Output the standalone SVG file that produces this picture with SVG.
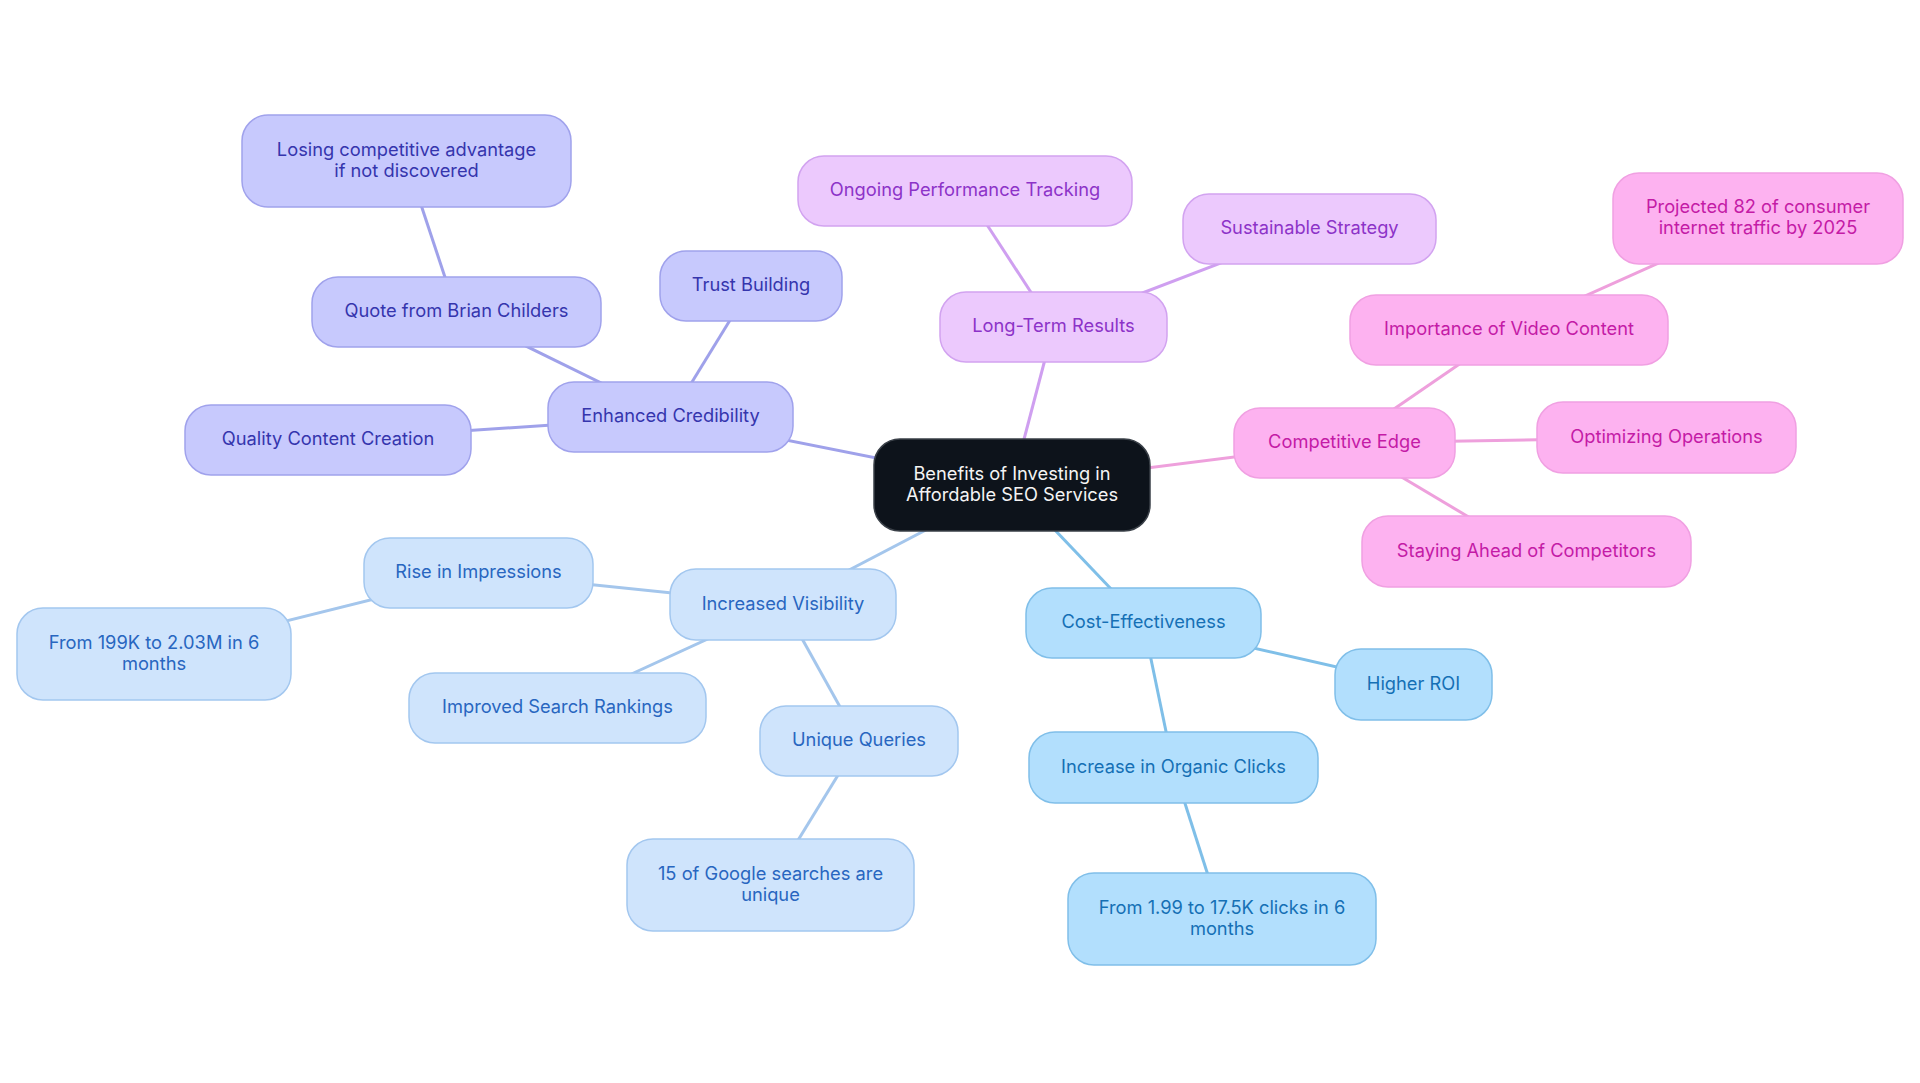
<svg xmlns="http://www.w3.org/2000/svg" width="1920" height="1083" viewBox="0 0 1920 1083">
<style>
text{font-family:Inter,"Open Sans","Liberation Sans",sans-serif;font-size:18.3px;text-anchor:middle;dominant-baseline:central}
.n rect{stroke-width:1.5}
.ind rect{fill:#c7c9fd;stroke:#a0a2ec}.ind text{fill:#3535ad}
.pur rect{fill:#ecc9fd;stroke:#d2a3f0}.pur text{fill:#8c33c8}
.pnk rect{fill:#fdb2f0;stroke:#f0a0e2}.pnk text{fill:#c41ba6}
.lbl rect{fill:#cfe4fc;stroke:#a3c7ef}.lbl text{fill:#2866c0}
.sky rect{fill:#b2dffd;stroke:#80bfe9}.sky text{fill:#1570b5}
.root rect{fill:#0d131b;stroke:#3a4048}.root text{fill:#f4f4f4}
#edges line{stroke-width:3;fill:none}
.e-ind{stroke:#9fa1ea}.e-pur{stroke:#cf9ff0}.e-pnk{stroke:#eea0dc}.e-lbl{stroke:#a4c6ec}.e-sky{stroke:#7fbfe8}
</style>
<rect width="1920" height="1083" fill="#ffffff"/>
<g id="edges">
<line class="e-ind" x1="1012" y1="485" x2="670.5" y2="417"/>
<line class="e-ind" x1="670.5" y1="417" x2="456.5" y2="312"/>
<line class="e-ind" x1="456.5" y1="312" x2="406.5" y2="161"/>
<line class="e-ind" x1="670.5" y1="417" x2="751" y2="286"/>
<line class="e-ind" x1="670.5" y1="417" x2="328" y2="440"/>
<line class="e-pur" x1="1012" y1="485" x2="1053.5" y2="327"/>
<line class="e-pur" x1="1053.5" y1="327" x2="965" y2="191"/>
<line class="e-pur" x1="1053.5" y1="327" x2="1309.5" y2="229"/>
<line class="e-pnk" x1="1012" y1="485" x2="1344.5" y2="443"/>
<line class="e-pnk" x1="1344.5" y1="443" x2="1509" y2="330"/>
<line class="e-pnk" x1="1509" y1="330" x2="1758" y2="218.5"/>
<line class="e-pnk" x1="1344.5" y1="443" x2="1666.5" y2="437.5"/>
<line class="e-pnk" x1="1344.5" y1="443" x2="1526.5" y2="551.5"/>
<line class="e-lbl" x1="1012" y1="485" x2="783" y2="604.5"/>
<line class="e-lbl" x1="783" y1="604.5" x2="478.5" y2="573"/>
<line class="e-lbl" x1="478.5" y1="573" x2="154" y2="654"/>
<line class="e-lbl" x1="783" y1="604.5" x2="557.5" y2="708"/>
<line class="e-lbl" x1="783" y1="604.5" x2="859" y2="741"/>
<line class="e-lbl" x1="859" y1="741" x2="770.5" y2="885"/>
<line class="e-sky" x1="1012" y1="485" x2="1143.5" y2="623"/>
<line class="e-sky" x1="1143.5" y1="623" x2="1413.5" y2="684.5"/>
<line class="e-sky" x1="1143.5" y1="623" x2="1173.5" y2="767.5"/>
<line class="e-sky" x1="1173.5" y1="767.5" x2="1222" y2="919"/>
</g>
<g id="root" class="n root"><rect x="874" y="439" width="276" height="92" rx="26"/><text x="1012" y="473">Benefits of Investing in</text><text x="1012" y="494">Affordable SEO Services</text></g>
<g id="enhanced-credibility" class="n ind"><rect x="548" y="382" width="245" height="70" rx="26"/><text x="670.5" y="415">Enhanced Credibility</text></g>
<g id="losing-advantage" class="n ind"><rect x="242" y="115" width="329" height="92" rx="26"/><text x="406.5" y="149">Losing competitive advantage</text><text x="406.5" y="170">if not discovered</text></g>
<g id="quote-brian" class="n ind"><rect x="312" y="277" width="289" height="70" rx="26"/><text x="456.5" y="310">Quote from Brian Childers</text></g>
<g id="trust-building" class="n ind"><rect x="660" y="251" width="182" height="70" rx="26"/><text x="751" y="284">Trust Building</text></g>
<g id="quality-content" class="n ind"><rect x="185" y="405" width="286" height="70" rx="26"/><text x="328" y="438">Quality Content Creation</text></g>
<g id="long-term" class="n pur"><rect x="940" y="292" width="227" height="70" rx="26"/><text x="1053.5" y="325">Long-Term Results</text></g>
<g id="ongoing-tracking" class="n pur"><rect x="798" y="156" width="334" height="70" rx="26"/><text x="965" y="189">Ongoing Performance Tracking</text></g>
<g id="sustainable-strategy" class="n pur"><rect x="1183" y="194" width="253" height="70" rx="26"/><text x="1309.5" y="227">Sustainable Strategy</text></g>
<g id="competitive-edge" class="n pnk"><rect x="1234" y="408" width="221" height="70" rx="26"/><text x="1344.5" y="441">Competitive Edge</text></g>
<g id="video-content" class="n pnk"><rect x="1350" y="295" width="318" height="70" rx="26"/><text x="1509" y="328">Importance of Video Content</text></g>
<g id="projected-82" class="n pnk"><rect x="1613" y="173" width="290" height="91" rx="26"/><text x="1758" y="206">Projected 82 of consumer</text><text x="1758" y="227">internet traffic by 2025</text></g>
<g id="optimizing-operations" class="n pnk"><rect x="1537" y="402" width="259" height="71" rx="26"/><text x="1666.5" y="436">Optimizing Operations</text></g>
<g id="staying-ahead" class="n pnk"><rect x="1362" y="516" width="329" height="71" rx="26"/><text x="1526.5" y="550">Staying Ahead of Competitors</text></g>
<g id="increased-visibility" class="n lbl"><rect x="670" y="569" width="226" height="71" rx="26"/><text x="783" y="603">Increased Visibility</text></g>
<g id="rise-impressions" class="n lbl"><rect x="364" y="538" width="229" height="70" rx="26"/><text x="478.5" y="571">Rise in Impressions</text></g>
<g id="from-199k" class="n lbl"><rect x="17" y="608" width="274" height="92" rx="26"/><text x="154" y="642">From 199K to 2.03M in 6</text><text x="154" y="663">months</text></g>
<g id="improved-rankings" class="n lbl"><rect x="409" y="673" width="297" height="70" rx="26"/><text x="557.5" y="706">Improved Search Rankings</text></g>
<g id="unique-queries" class="n lbl"><rect x="760" y="706" width="198" height="70" rx="26"/><text x="859" y="739">Unique Queries</text></g>
<g id="google-15" class="n lbl"><rect x="627" y="839" width="287" height="92" rx="26"/><text x="770.5" y="873">15 of Google searches are</text><text x="770.5" y="894">unique</text></g>
<g id="cost-effectiveness" class="n sky"><rect x="1026" y="588" width="235" height="70" rx="26"/><text x="1143.5" y="621">Cost-Effectiveness</text></g>
<g id="higher-roi" class="n sky"><rect x="1335" y="649" width="157" height="71" rx="26"/><text x="1413.5" y="683">Higher ROI</text></g>
<g id="organic-clicks" class="n sky"><rect x="1029" y="732" width="289" height="71" rx="26"/><text x="1173.5" y="766">Increase in Organic Clicks</text></g>
<g id="from-199" class="n sky"><rect x="1068" y="873" width="308" height="92" rx="26"/><text x="1222" y="907">From 1.99 to 17.5K clicks in 6</text><text x="1222" y="928">months</text></g>
</svg>
